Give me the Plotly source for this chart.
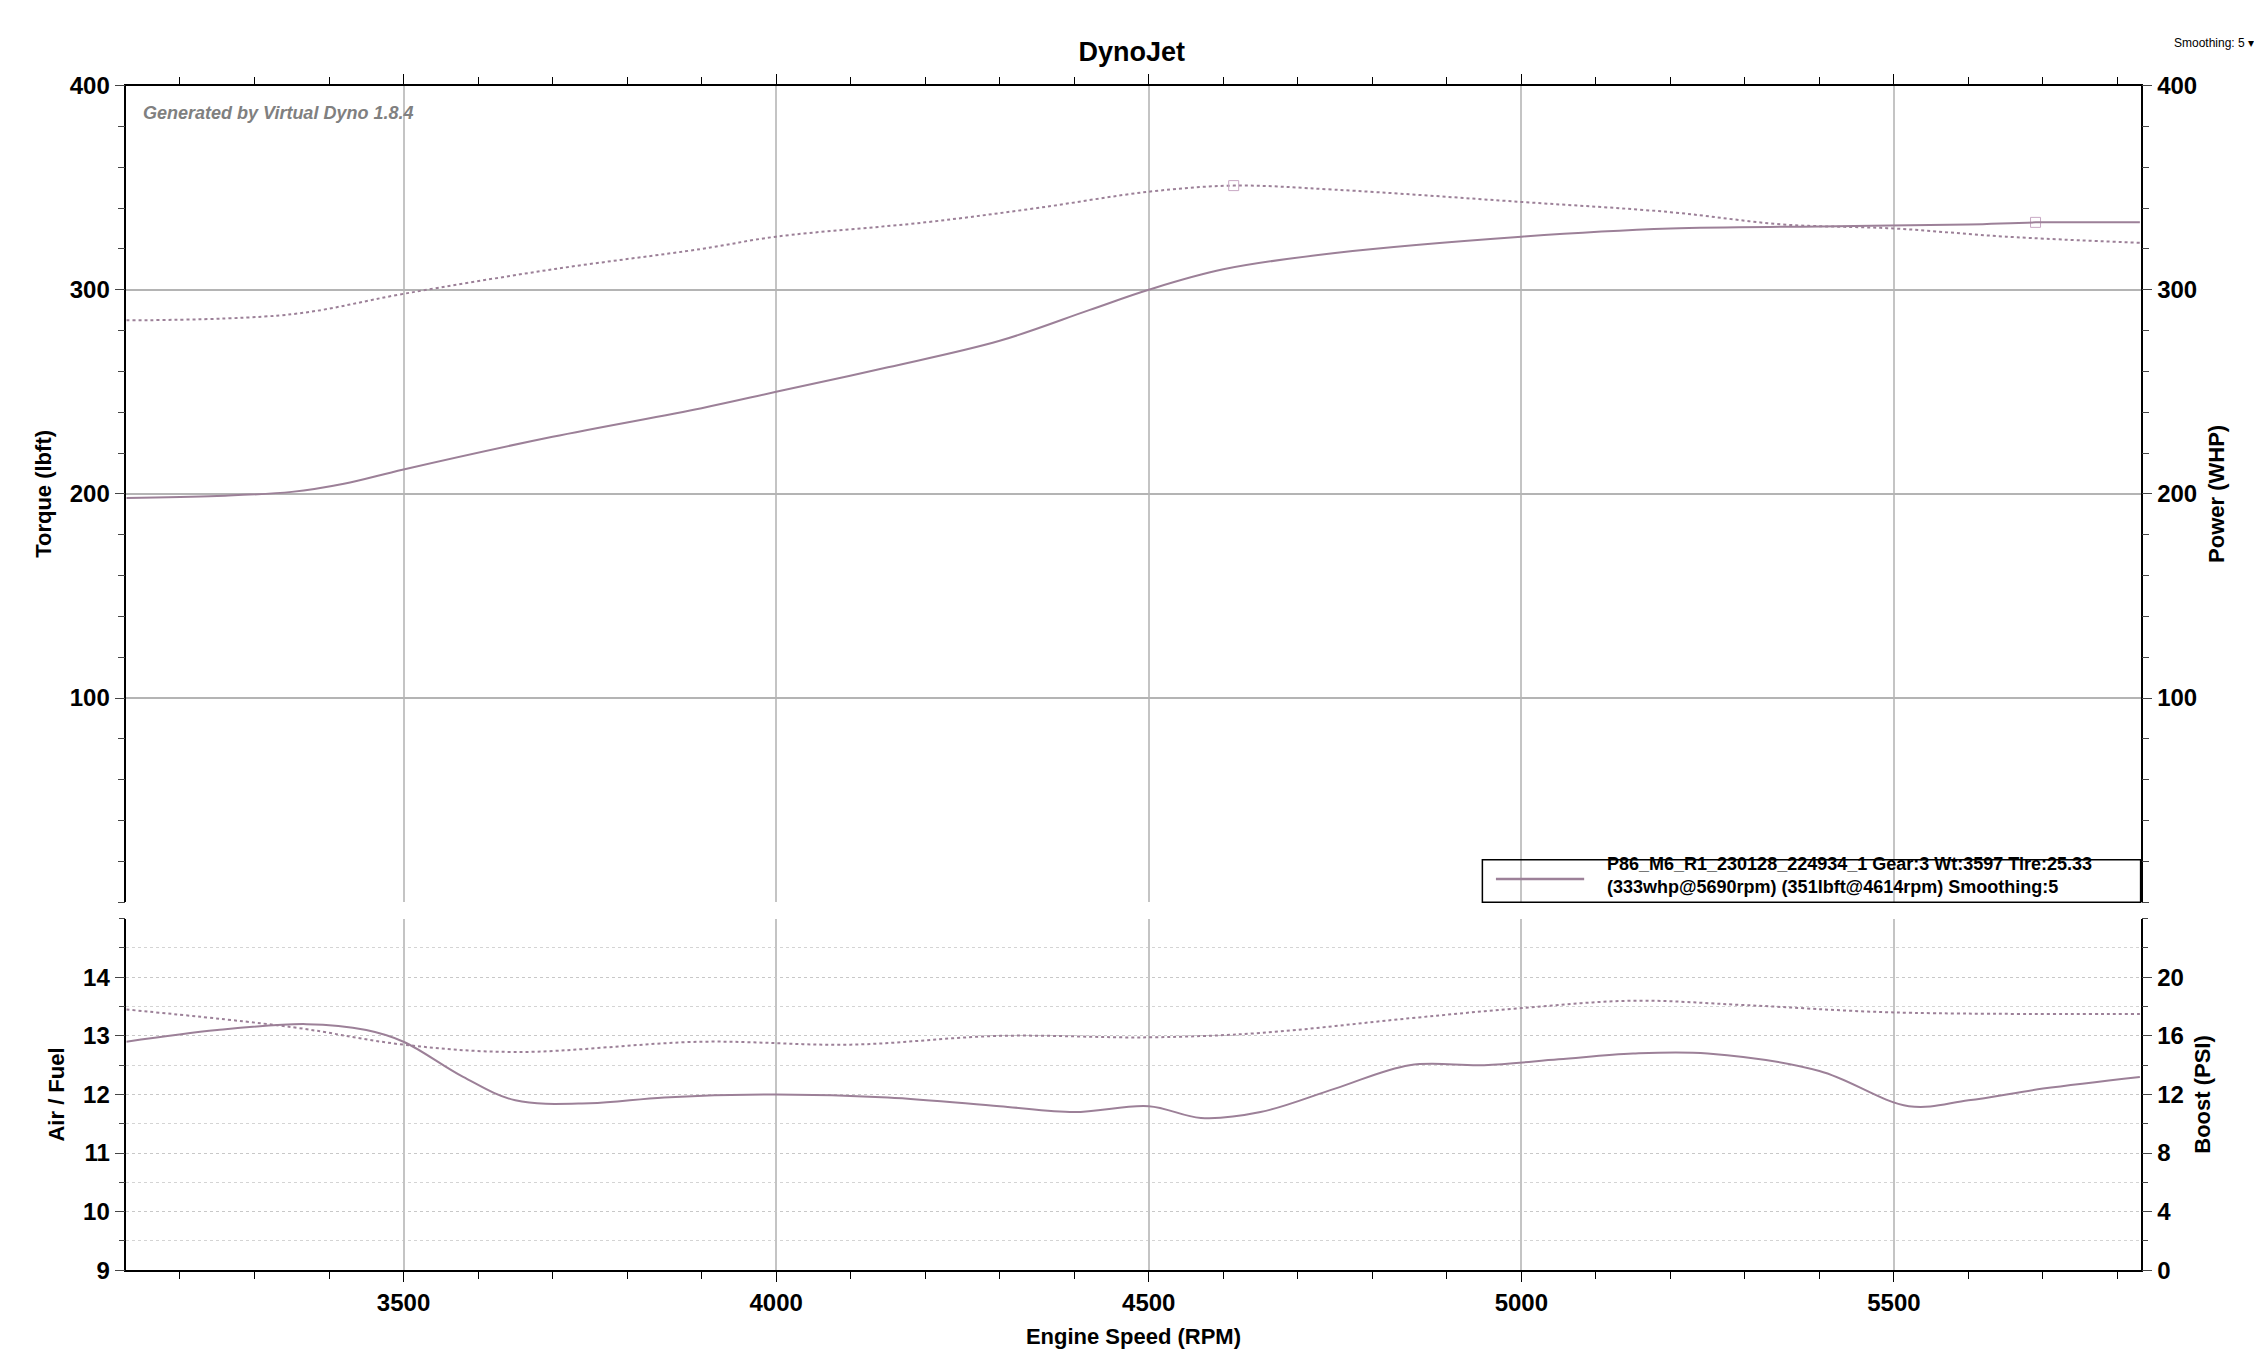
import plotly.graph_objects as go

# top chart: torque (dotted) and power (solid)
rpm_tq = [3128, 3350, 3500, 3700, 3900, 4000, 4200, 4350, 4500, 4614, 4750, 5000, 5200, 5350, 5500, 5650, 5830]
torque = [285, 288, 298, 310, 320, 326, 333, 340, 348, 351, 349, 343, 338, 332, 330, 326, 323]

rpm_hp = [3128, 3250, 3350, 3420, 3500, 3700, 3900, 4000, 4150, 4300, 4420, 4500, 4600, 4750, 5000, 5200, 5400, 5600, 5690, 5830]
power = [198, 199, 201, 205, 212, 228, 242, 250, 262, 275, 290, 300, 310, 318, 326, 330, 331, 332, 333, 333]

peak_rpm = [4614, 5690]
peak_val = [351, 333]

# bottom chart: air/fuel (solid) and boost (dotted)
rpm_afr = [3128, 3250, 3370, 3450, 3500, 3580, 3650, 3750, 3850, 4000, 4150, 4300, 4400, 4500, 4570, 4650,
           4750, 4850, 4950, 5050, 5150, 5250, 5400, 5520, 5600, 5700, 5830]
afr = [12.9, 13.1, 13.2, 13.1, 12.9, 12.3, 11.9, 11.85, 11.95, 12.0, 11.95, 11.8, 11.7, 11.8, 11.6, 11.7,
       12.1, 12.5, 12.5, 12.6, 12.7, 12.7, 12.4, 11.8, 11.9, 12.1, 12.3]

rpm_boost = [3128, 3350, 3500, 3650, 3900, 4100, 4300, 4500, 4650, 4850, 5000, 5150, 5300, 5500, 5830]
boost = [17.8, 16.6, 15.4, 14.9, 15.6, 15.4, 16.0, 15.9, 16.2, 17.2, 17.9, 18.4, 18.1, 17.6, 17.5]

col = "#9c8098"
font = "Liberation Sans, Arial, sans-serif"
xr = [3128, 5831]
dx, dy = -0.0032, 0.0063  # page offset correction

fig = go.Figure()
fig.add_trace(go.Scatter(x=rpm_tq, y=torque, mode="lines", line=dict(color=col, width=2, dash="dot", shape="spline"),
                         xaxis="x", yaxis="y"))
fig.add_trace(go.Scatter(x=rpm_hp, y=power, mode="lines", line=dict(color=col, width=2, shape="spline"),
                         xaxis="x", yaxis="y2"))
fig.add_trace(go.Scatter(x=peak_rpm, y=peak_val, mode="markers",
                         marker=dict(symbol="square-open", size=10, color="#c8a8c4"), xaxis="x", yaxis="y"))
fig.add_trace(go.Scatter(x=rpm_afr, y=afr, mode="lines", line=dict(color=col, width=2, shape="spline"),
                         xaxis="x2", yaxis="y3"))
fig.add_trace(go.Scatter(x=rpm_boost, y=boost, mode="lines", line=dict(color=col, width=2, dash="dot", shape="spline"),
                         xaxis="x2", yaxis="y4"))

xd = [0.0555 + dx, 0.946 + dx]
top = [0.340 + dy, 0.937 + dy]
bot = [0.071 + dy, 0.328 + dy]
tickf = dict(family=font, size=24, color="black", weight="bold")
titf = dict(size=22, family=font, weight="bold")
common_x = dict(range=xr, domain=xd, showline=True, linecolor="black", linewidth=1.5, mirror=False,
                showgrid=True, gridcolor="#c4c4c4", gridwidth=1.5, tickvals=[3500, 4000, 4500, 5000, 5500],
                ticks="outside", ticklen=10, tickcolor="black", automargin=False,
                minor=dict(dtick=100, tick0=3100, ticks="outside", ticklen=7, tickcolor="black", showgrid=False),
                zeroline=False)
yc = dict(showline=True, linecolor="black", linewidth=1.5, ticks="outside", ticklen=10, zeroline=False,
          automargin=False, tickfont=tickf)
fig.update_layout(
    width=2262, height=1368, margin=dict(l=0, r=0, t=0, b=0, autoexpand=False),
    paper_bgcolor="white", plot_bgcolor="white", showlegend=False,
    font=dict(family=font, color="black"),
    title=dict(text="DynoJet", x=0.5 + dx, y=0.962 + dy, xanchor="center", yanchor="middle",
               font=dict(size=27, family=font, weight="bold")),
    xaxis=dict(**common_x, anchor="y", side="top", showticklabels=False),
    xaxis2=dict(**common_x, anchor="y3", tickfont=tickf, tickformat="d",
                title=dict(text="Engine Speed (RPM)", font=titf, standoff=14)),
    yaxis=dict(**yc, domain=top, range=[0, 400], tickvals=[100, 200, 300, 400],
               showgrid=True, gridcolor="#b4b4b4", gridwidth=1.5,
               minor=dict(dtick=20, ticks="outside", ticklen=7, showgrid=False),
               title=dict(text="Torque (lbft)", font=titf, standoff=12)),
    yaxis2=dict(**yc, domain=top, range=[0, 400], overlaying="y", side="right", anchor="x",
                tickvals=[100, 200, 300, 400], showgrid=False,
                minor=dict(dtick=20, ticks="outside", ticklen=7),
                title=dict(text="Power (WHP)", font=titf, standoff=12)),
    yaxis3=dict(**yc, domain=bot, range=[9, 15], tickvals=[9, 10, 11, 12, 13, 14],
                showgrid=True, gridcolor="#c8c8c8", gridwidth=1, griddash="dot",
                minor=dict(dtick=0.5, ticks="outside", ticklen=6, showgrid=True, gridcolor="#d4d4d4",
                           griddash="dot"), anchor="x2",
                title=dict(text="Air / Fuel", font=titf, standoff=12)),
    yaxis4=dict(**yc, domain=bot, range=[0, 24], overlaying="y3", side="right", anchor="x2",
                tickvals=[0, 4, 8, 12, 16, 20], showgrid=False,
                minor=dict(dtick=2, ticks="outside", ticklen=6),
                title=dict(text="Boost (PSI)", font=titf, standoff=12)),
)

fig.add_annotation(text="<i><b>Generated by Virtual Dyno 1.8.4</b></i>", xref="paper", yref="paper",
                   x=0.062 + dx, y=0.926 + dy, xanchor="left", yanchor="top", showarrow=False,
                   font=dict(size=18, color="#808080", family=font))
fig.add_annotation(text="<b>P86_M6_R1_230128_224934_1 Gear:3 Wt:3597 Tire:25.33<br>"
                        "(333whp@5690rpm) (351lbft@4614rpm) Smoothing:5</b>",
                   xref="paper", yref="paper", x=0.709 + dx, y=0.3425 + dy, xanchor="left", yanchor="bottom",
                   showarrow=False, align="left", font=dict(size=18, family=font, color="black"))
fig.add_shape(type="rect", xref="paper", yref="paper", x0=0.655 + dx, x1=0.946 + dx, y0=0.340 + dy,
              y1=0.371 + dy, line=dict(color="black", width=1.5), fillcolor="rgba(0,0,0,0)")
fig.add_shape(type="line", xref="paper", yref="paper", x0=0.661 + dx, x1=0.700 + dx, y0=0.357 + dy,
              y1=0.357 + dy, line=dict(color=col, width=2.5))
fig.add_annotation(text="Smoothing: 5 ▾", xref="paper", yref="paper", x=0.994, y=0.975 + dy, xanchor="right",
                   showarrow=False, font=dict(size=12, family=font))

fig.write_html("out.html")
